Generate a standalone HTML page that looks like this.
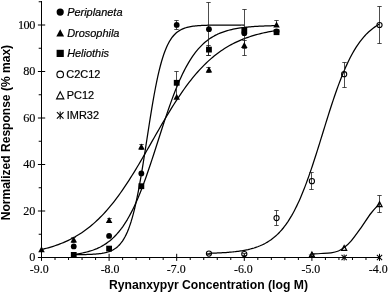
<!DOCTYPE html><html><head><meta charset="utf-8"><title>chart</title>
<style>html,body{margin:0;padding:0;background:#fff}svg{display:block}.t{font-family:"Liberation Serif",serif;font-size:12.2px;fill:#000;stroke:#000;stroke-width:0.15px}.l{font-family:"Liberation Sans",sans-serif;font-size:10.95px;fill:#000;stroke:#000;stroke-width:0.2px}.li{font-family:"Liberation Sans",sans-serif;font-size:10.95px;font-style:italic;fill:#000;stroke:#000;stroke-width:0.2px}.b{font-family:"Liberation Sans",sans-serif;font-size:12.2px;font-weight:bold;fill:#000}</style></head><body>
<svg width="388" height="292" viewBox="0 0 388 292">
<rect width="388" height="292" fill="#fff"/>
<g stroke="#000" stroke-width="1" fill="none" stroke-linecap="butt">
<path d="M41.5 1V257.5H380"/>
<path d="M37.9 257.50H45.2"/>
<path d="M38.7 234.25H41.5"/>
<path d="M37.9 211.00H45.2"/>
<path d="M38.7 187.75H41.5"/>
<path d="M37.9 164.50H45.2"/>
<path d="M38.7 141.25H41.5"/>
<path d="M37.9 118.00H45.2"/>
<path d="M38.7 94.75H41.5"/>
<path d="M37.9 71.50H45.2"/>
<path d="M38.7 48.25H41.5"/>
<path d="M37.9 25.00H45.2"/>
<path d="M38.7 1.75H41.5"/>
<path d="M41.50 253.8V260.9"/>
<path d="M55.02 257.5V260"/>
<path d="M68.54 257.5V260"/>
<path d="M82.06 257.5V260"/>
<path d="M95.58 257.5V260"/>
<path d="M109.10 253.8V260.9"/>
<path d="M122.62 257.5V260"/>
<path d="M136.14 257.5V260"/>
<path d="M149.66 257.5V260"/>
<path d="M163.18 257.5V260"/>
<path d="M176.70 253.8V260.9"/>
<path d="M190.22 257.5V260"/>
<path d="M203.74 257.5V260"/>
<path d="M217.26 257.5V260"/>
<path d="M230.78 257.5V260"/>
<path d="M244.30 253.8V260.9"/>
<path d="M257.82 257.5V260"/>
<path d="M271.34 257.5V260"/>
<path d="M284.86 257.5V260"/>
<path d="M298.38 257.5V260"/>
<path d="M311.90 253.8V260.9"/>
<path d="M325.42 257.5V260"/>
<path d="M338.94 257.5V260"/>
<path d="M352.46 257.5V260"/>
<path d="M365.98 257.5V260"/>
<path d="M379.50 253.8V260.9"/>
</g>
<text class="t" x="35.35" y="261.10" text-anchor="end">0</text>
<text class="t" x="35.35" y="214.60" text-anchor="end">20</text>
<text class="t" x="35.35" y="168.10" text-anchor="end">40</text>
<text class="t" x="35.35" y="121.60" text-anchor="end">60</text>
<text class="t" x="35.35" y="75.10" text-anchor="end">80</text>
<text class="t" style="letter-spacing:-0.45px" x="34.9" y="28.60" text-anchor="end">100</text>
<text class="t" style="font-size:11.9px" x="29.85" y="273.3">-9.0</text>
<text class="t" style="font-size:11.9px" x="100.65" y="273.3">-8.0</text>
<text class="t" style="font-size:11.9px" x="166.85" y="273.3">-7.0</text>
<text class="t" style="font-size:11.9px" x="233.95" y="273.3">-6.0</text>
<text class="t" style="font-size:11.9px" x="301.45" y="273.3">-5.0</text>
<text class="t" style="font-size:11.9px" x="368.75" y="273.3">-4.0</text>
<text class="b" x="108.9" y="288.8">Rynanxypyr Concentration (log M)</text>
<text class="b" style="font-size:12.06px" transform="translate(9.8 220.3) rotate(-90)">Normalized Response (% max)</text>
<g stroke="#000" stroke-width="1.25" fill="none" stroke-linejoin="round">
<path d="M73.75 254.70 L74.96 254.69 L76.18 254.68 L77.40 254.67 L78.62 254.66 L79.84 254.64 L81.05 254.62 L82.27 254.60 L83.49 254.58 L84.71 254.55 L85.93 254.52 L87.15 254.49 L88.36 254.45 L89.58 254.41 L90.80 254.35 L92.02 254.29 L93.24 254.23 L94.46 254.15 L95.67 254.06 L96.89 253.95 L98.11 253.84 L99.33 253.70 L100.55 253.55 L101.76 253.37 L102.98 253.16 L104.20 252.93 L105.42 252.66 L106.64 252.36 L107.86 252.01 L109.07 251.60 L110.29 251.14 L111.51 250.62 L112.73 250.02 L113.95 249.34 L115.17 248.56 L116.38 247.67 L117.60 246.66 L118.82 245.51 L120.04 244.20 L121.26 242.72 L122.48 241.05 L123.69 239.15 L124.91 237.02 L126.13 234.63 L127.35 231.95 L128.57 228.95 L129.78 225.62 L131.00 221.93 L132.22 217.85 L133.44 213.37 L134.66 208.48 L135.88 203.17 L137.09 197.45 L138.31 191.31 L139.53 184.78 L140.75 177.89 L141.97 170.68 L143.19 163.20 L144.40 155.51 L145.62 147.67 L146.84 139.75 L148.06 131.84 L149.28 124.00 L150.49 116.32 L151.71 108.84 L152.93 101.64 L154.15 94.76 L155.37 88.25 L156.59 82.12 L157.80 76.41 L159.02 71.11 L160.24 66.24 L161.46 61.77 L162.68 57.71 L163.90 54.02 L165.11 50.70 L166.33 47.72 L167.55 45.05 L168.77 42.66 L169.99 40.54 L171.21 38.65 L172.42 36.99 L173.64 35.51 L174.86 34.21 L176.08 33.07 L177.30 32.06 L178.51 31.17 L179.73 30.40 L180.95 29.72 L182.17 29.12 L183.39 28.60 L184.61 28.14 L185.82 27.74 L187.04 27.39 L188.26 27.08 L189.48 26.82 L190.70 26.59 L191.92 26.38 L193.13 26.21 L194.35 26.05 L195.57 25.92 L196.79 25.80 L198.01 25.70 L199.22 25.61 L200.44 25.53 L201.66 25.46 L202.88 25.40 L204.10 25.35 L205.32 25.30 L206.53 25.27 L207.75 25.23 L208.97 25.20 L210.19 25.18 L211.41 25.15 L212.63 25.13 L213.84 25.12 L215.06 25.10 L216.28 25.09 L217.50 25.08 L218.72 25.07 L219.94 25.06 L221.15 25.05 L222.37 25.04 L223.59 25.04 L224.81 25.03 L226.03 25.03 L227.24 25.03 L228.46 25.02 L229.68 25.02 L230.90 25.02 L232.12 25.01 L233.34 25.01 L234.55 25.01 L235.77 25.01 L236.99 25.01 L238.21 25.01 L239.43 25.01 L240.65 25.01 L241.86 25.00 L243.08 25.00 L244.30 25.00"/>
<path d="M41.50 249.51 L43.18 249.12 L44.86 248.70 L46.54 248.26 L48.22 247.80 L49.89 247.32 L51.57 246.82 L53.25 246.29 L54.93 245.74 L56.61 245.16 L58.29 244.56 L59.97 243.93 L61.65 243.27 L63.33 242.58 L65.00 241.85 L66.68 241.10 L68.36 240.31 L70.04 239.49 L71.72 238.63 L73.40 237.73 L75.08 236.80 L76.76 235.82 L78.44 234.81 L80.11 233.75 L81.79 232.65 L83.47 231.50 L85.15 230.31 L86.83 229.07 L88.51 227.78 L90.19 226.44 L91.87 225.05 L93.55 223.61 L95.22 222.12 L96.90 220.57 L98.58 218.97 L100.26 217.32 L101.94 215.60 L103.62 213.84 L105.30 212.01 L106.98 210.13 L108.66 208.19 L110.33 206.19 L112.01 204.13 L113.69 202.02 L115.37 199.85 L117.05 197.63 L118.73 195.35 L120.41 193.01 L122.09 190.62 L123.77 188.18 L125.44 185.69 L127.12 183.15 L128.80 180.57 L130.48 177.94 L132.16 175.26 L133.84 172.55 L135.52 169.80 L137.20 167.01 L138.88 164.20 L140.55 161.35 L142.23 158.48 L143.91 155.59 L145.59 152.68 L147.27 149.76 L148.95 146.82 L150.63 143.88 L152.31 140.93 L153.99 137.99 L155.66 135.05 L157.34 132.12 L159.02 129.20 L160.70 126.29 L162.38 123.40 L164.06 120.54 L165.74 117.70 L167.42 114.89 L169.10 112.12 L170.77 109.37 L172.45 106.67 L174.13 104.01 L175.81 101.39 L177.49 98.81 L179.17 96.29 L180.85 93.81 L182.53 91.38 L184.21 89.01 L185.88 86.68 L187.56 84.42 L189.24 82.21 L190.92 80.05 L192.60 77.95 L194.28 75.91 L195.96 73.93 L197.64 72.00 L199.32 70.14 L200.99 68.33 L202.67 66.57 L204.35 64.87 L206.03 63.23 L207.71 61.64 L209.39 60.11 L211.07 58.63 L212.75 57.20 L214.43 55.83 L216.11 54.50 L217.78 53.23 L219.46 52.00 L221.14 50.82 L222.82 49.68 L224.50 48.59 L226.18 47.55 L227.86 46.54 L229.54 45.58 L231.22 44.65 L232.89 43.77 L234.57 42.92 L236.25 42.10 L237.93 41.32 L239.61 40.58 L241.29 39.86 L242.97 39.18 L244.65 38.53 L246.33 37.90 L248.00 37.30 L249.68 36.73 L251.36 36.19 L253.04 35.67 L254.72 35.17 L256.40 34.70 L258.08 34.24 L259.76 33.81 L261.44 33.40 L263.11 33.00 L264.79 32.63 L266.47 32.27 L268.15 31.93 L269.83 31.60 L271.51 31.29 L273.19 31.00 L274.87 30.72 L276.55 30.45"/>
<path d="M73.75 254.46 L75.19 254.26 L76.64 254.04 L78.09 253.81 L79.54 253.57 L80.99 253.30 L82.44 253.01 L83.89 252.70 L85.33 252.36 L86.78 252.00 L88.23 251.61 L89.68 251.19 L91.13 250.74 L92.58 250.26 L94.03 249.73 L95.47 249.17 L96.92 248.56 L98.37 247.91 L99.82 247.21 L101.27 246.46 L102.72 245.65 L104.17 244.79 L105.61 243.86 L107.06 242.87 L108.51 241.80 L109.96 240.66 L111.41 239.44 L112.86 238.14 L114.31 236.75 L115.75 235.27 L117.20 233.69 L118.65 232.01 L120.10 230.22 L121.55 228.32 L123.00 226.31 L124.45 224.18 L125.89 221.93 L127.34 219.55 L128.79 217.04 L130.24 214.40 L131.69 211.63 L133.14 208.72 L134.59 205.67 L136.03 202.49 L137.48 199.18 L138.93 195.74 L140.38 192.16 L141.83 188.46 L143.28 184.64 L144.73 180.71 L146.17 176.67 L147.62 172.54 L149.07 168.31 L150.52 164.01 L151.97 159.64 L153.42 155.21 L154.87 150.75 L156.31 146.25 L157.76 141.74 L159.21 137.22 L160.66 132.72 L162.11 128.24 L163.56 123.81 L165.01 119.42 L166.45 115.09 L167.90 110.85 L169.35 106.68 L170.80 102.61 L172.25 98.65 L173.70 94.80 L175.15 91.06 L176.59 87.45 L178.04 83.97 L179.49 80.61 L180.94 77.40 L182.39 74.31 L183.84 71.36 L185.29 68.55 L186.73 65.87 L188.18 63.33 L189.63 60.91 L191.08 58.62 L192.53 56.45 L193.98 54.41 L195.43 52.48 L196.87 50.66 L198.32 48.94 L199.77 47.34 L201.22 45.83 L202.67 44.41 L204.12 43.08 L205.57 41.84 L207.01 40.68 L208.46 39.59 L209.91 38.58 L211.36 37.63 L212.81 36.74 L214.26 35.92 L215.71 35.15 L217.15 34.44 L218.60 33.77 L220.05 33.16 L221.50 32.58 L222.95 32.05 L224.40 31.55 L225.85 31.09 L227.29 30.66 L228.74 30.26 L230.19 29.89 L231.64 29.55 L233.09 29.23 L234.54 28.93 L235.99 28.66 L237.43 28.41 L238.88 28.17 L240.33 27.95 L241.78 27.75 L243.23 27.57 L244.68 27.39 L246.13 27.23 L247.57 27.08 L249.02 26.95 L250.47 26.82 L251.92 26.70 L253.37 26.59 L254.82 26.49 L256.27 26.40 L257.71 26.31 L259.16 26.23 L260.61 26.15 L262.06 26.08 L263.51 26.02 L264.96 25.96 L266.41 25.91 L267.85 25.86 L269.30 25.81 L270.75 25.77 L272.20 25.73 L273.65 25.69 L275.10 25.66 L276.55 25.62"/>
<path d="M208.95 253.30 L210.16 253.26 L211.38 253.22 L212.60 253.18 L213.82 253.14 L215.04 253.09 L216.25 253.05 L217.47 252.99 L218.69 252.94 L219.91 252.88 L221.13 252.81 L222.35 252.74 L223.56 252.67 L224.78 252.59 L226.00 252.51 L227.22 252.42 L228.44 252.33 L229.66 252.22 L230.87 252.12 L232.09 252.00 L233.31 251.88 L234.53 251.75 L235.75 251.61 L236.96 251.46 L238.18 251.30 L239.40 251.13 L240.62 250.95 L241.84 250.76 L243.06 250.55 L244.27 250.33 L245.49 250.10 L246.71 249.85 L247.93 249.59 L249.15 249.30 L250.37 249.00 L251.58 248.68 L252.80 248.34 L254.02 247.98 L255.24 247.59 L256.46 247.18 L257.68 246.75 L258.89 246.28 L260.11 245.79 L261.33 245.26 L262.55 244.70 L263.77 244.11 L264.98 243.48 L266.20 242.81 L267.42 242.10 L268.64 241.34 L269.86 240.54 L271.08 239.70 L272.29 238.80 L273.51 237.85 L274.73 236.84 L275.95 235.77 L277.17 234.65 L278.39 233.46 L279.60 232.20 L280.82 230.87 L282.04 229.48 L283.26 228.00 L284.48 226.45 L285.69 224.82 L286.91 223.10 L288.13 221.30 L289.35 219.41 L290.57 217.43 L291.79 215.36 L293.00 213.19 L294.22 210.93 L295.44 208.57 L296.66 206.11 L297.88 203.55 L299.10 200.89 L300.31 198.13 L301.53 195.27 L302.75 192.32 L303.97 189.27 L305.19 186.12 L306.41 182.89 L307.62 179.56 L308.84 176.15 L310.06 172.66 L311.28 169.10 L312.50 165.47 L313.71 161.77 L314.93 158.01 L316.15 154.21 L317.37 150.36 L318.59 146.48 L319.81 142.57 L321.02 138.64 L322.24 134.70 L323.46 130.75 L324.68 126.82 L325.90 122.89 L327.12 118.99 L328.33 115.13 L329.55 111.30 L330.77 107.51 L331.99 103.78 L333.21 100.11 L334.42 96.51 L335.64 92.98 L336.86 89.52 L338.08 86.15 L339.30 82.87 L340.52 79.67 L341.73 76.57 L342.95 73.56 L344.17 70.65 L345.39 67.83 L346.61 65.12 L347.83 62.51 L349.04 59.99 L350.26 57.57 L351.48 55.26 L352.70 53.04 L353.92 50.91 L355.14 48.88 L356.35 46.94 L357.57 45.09 L358.79 43.33 L360.01 41.65 L361.23 40.05 L362.44 38.54 L363.66 37.09 L364.88 35.73 L366.10 34.43 L367.32 33.21 L368.54 32.05 L369.75 30.95 L370.97 29.91 L372.19 28.93 L373.41 28.00 L374.63 27.12 L375.85 26.30 L377.06 25.52 L378.28 24.78 L379.50 24.09"/>
<path d="M311.90 253.90 C313.42 253.83 317.82 253.68 321.00 253.50 C324.18 253.32 328.10 253.22 331.00 252.80 C333.90 252.38 336.22 251.87 338.40 251.00 C340.58 250.13 342.00 249.23 344.10 247.60 C346.20 245.97 348.18 244.50 351.00 241.20 C353.82 237.90 357.70 232.42 361.00 227.80 C364.30 223.18 367.72 217.53 370.80 213.50 C373.88 209.47 378.05 205.25 379.50 203.60"/>
</g>
<path d="M73.50 237.50V242.50M71.30 237.50H75.70M71.30 242.50H75.70" stroke="#1a1a1a" stroke-width="0.78" fill="none"/>
<path d="M109.50 218.50V222.50M107.30 218.50H111.70M107.30 222.50H111.70" stroke="#1a1a1a" stroke-width="0.78" fill="none"/>
<path d="M141.50 144.50V149.50M139.30 144.50H143.70M139.30 149.50H143.70" stroke="#1a1a1a" stroke-width="0.78" fill="none"/>
<path d="M176.50 20.50V29.50M174.30 20.50H178.70M174.30 29.50H178.70" stroke="#1a1a1a" stroke-width="0.78" fill="none"/>
<path d="M208.50 2.50V55.50M206.30 2.50H210.70M206.30 55.50H210.70" stroke="#1a1a1a" stroke-width="0.78" fill="none"/>
<path d="M208.50 45.50V55.50M206.30 45.50H210.70M206.30 55.50H210.70" stroke="#1a1a1a" stroke-width="0.78" fill="none"/>
<path d="M208.50 67.50V72.50M206.30 67.50H210.70M206.30 72.50H210.70" stroke="#1a1a1a" stroke-width="0.78" fill="none"/>
<path d="M244.50 9.50V55.50M242.30 9.50H246.70M242.30 55.50H246.70" stroke="#1a1a1a" stroke-width="0.78" fill="none"/>
<path d="M244.50 40.50V48.50M242.30 40.50H246.70M242.30 48.50H246.70" stroke="#1a1a1a" stroke-width="0.78" fill="none"/>
<path d="M276.50 20.50V25.50M274.30 20.50H278.70" stroke="#1a1a1a" stroke-width="0.78" fill="none"/>
<path d="M176.50 71.50V96.50M174.30 71.50H178.70" stroke="#1a1a1a" stroke-width="0.78" fill="none"/>
<path d="M208.50 253.50V254.50M206.30 253.50H210.70M206.30 254.50H210.70" stroke="#1a1a1a" stroke-width="0.78" fill="none"/>
<path d="M244.50 253.50V255.50M242.30 253.50H246.70M242.30 255.50H246.70" stroke="#1a1a1a" stroke-width="0.78" fill="none"/>
<path d="M276.50 210.50V225.50M274.30 210.50H278.70M274.30 225.50H278.70" stroke="#1a1a1a" stroke-width="0.78" fill="none"/>
<path d="M311.50 172.50V189.50M309.30 172.50H313.70M309.30 189.50H313.70" stroke="#1a1a1a" stroke-width="0.78" fill="none"/>
<path d="M344.50 62.50V87.50M342.30 62.50H346.70M342.30 87.50H346.70" stroke="#1a1a1a" stroke-width="0.78" fill="none"/>
<path d="M379.50 6.50V43.50M377.30 6.50H381.70M377.30 43.50H381.70" stroke="#1a1a1a" stroke-width="0.78" fill="none"/>
<path d="M379.50 195.50V212.50M377.30 195.50H381.70M377.30 212.50H381.70" stroke="#1a1a1a" stroke-width="0.78" fill="none"/>
<path d="M41.50 246.30L44.75 252.30L38.25 252.30Z" fill="#000"/>
<path d="M73.75 236.50L77.00 242.50L70.50 242.50Z" fill="#000"/>
<path d="M109.10 216.90L112.35 222.90L105.85 222.90Z" fill="#000"/>
<path d="M141.35 143.50L144.60 149.50L138.10 149.50Z" fill="#000"/>
<path d="M176.70 93.80L179.95 99.80L173.45 99.80Z" fill="#000"/>
<path d="M208.95 66.50L212.20 72.50L205.70 72.50Z" fill="#000"/>
<path d="M244.30 41.90L247.55 47.90L241.05 47.90Z" fill="#000"/>
<path d="M276.55 21.50L279.80 27.50L273.30 27.50Z" fill="#000"/>
<circle cx="73.75" cy="246.40" r="2.90" fill="#000"/>
<circle cx="109.10" cy="235.90" r="2.90" fill="#000"/>
<circle cx="141.35" cy="173.40" r="2.90" fill="#000"/>
<circle cx="176.70" cy="24.90" r="2.90" fill="#000"/>
<circle cx="208.95" cy="29.20" r="2.90" fill="#000"/>
<circle cx="244.30" cy="33.20" r="2.90" fill="#000"/>
<circle cx="276.55" cy="31.30" r="2.90" fill="#000"/>
<rect x="70.85" y="252.00" width="5.80" height="5.80" fill="#000"/>
<rect x="106.20" y="245.70" width="5.80" height="5.80" fill="#000"/>
<rect x="138.45" y="183.30" width="5.80" height="5.80" fill="#000"/>
<rect x="173.80" y="79.90" width="5.80" height="5.80" fill="#000"/>
<rect x="206.05" y="46.70" width="5.80" height="5.80" fill="#000"/>
<rect x="241.40" y="27.00" width="5.80" height="5.80" fill="#000"/>
<rect x="273.65" y="29.30" width="5.80" height="5.80" fill="#000"/>
<circle cx="208.95" cy="253.60" r="2.60" fill="none" stroke="#000" stroke-width="1.05"/>
<circle cx="244.30" cy="254.00" r="2.60" fill="none" stroke="#000" stroke-width="1.05"/>
<circle cx="276.55" cy="218.10" r="2.60" fill="none" stroke="#000" stroke-width="1.05"/>
<circle cx="311.90" cy="181.20" r="2.60" fill="none" stroke="#000" stroke-width="1.05"/>
<circle cx="344.15" cy="74.20" r="2.60" fill="none" stroke="#000" stroke-width="1.05"/>
<circle cx="379.50" cy="25.00" r="2.60" fill="none" stroke="#000" stroke-width="1.05"/>
<path d="M311.90 252.02L314.42 256.85L309.38 256.85Z" fill="none" stroke="#000" stroke-width="1.25"/>
<path d="M344.15 245.52L346.67 250.35L341.62 250.35Z" fill="none" stroke="#000" stroke-width="1.25"/>
<path d="M379.50 201.82L382.02 206.65L376.98 206.65Z" fill="none" stroke="#000" stroke-width="1.25"/>
<g stroke="#000" stroke-width="1.05" fill="none"><path d="M344.15 254.50V260.50"/><path d="M341.54 254.89L346.76 260.11M341.54 260.11L346.76 254.89"/></g>
<g stroke="#000" stroke-width="1.05" fill="none"><path d="M379.50 254.50V260.50"/><path d="M376.89 254.89L382.11 260.11M376.89 260.11L382.11 254.89"/></g>
<path d="M311.9 252.2V257.5M309.4 254.6L311.9 257.3L314.4 254.6" stroke="#000" stroke-width="1" fill="none"/>
<circle cx="60.20" cy="12.10" r="3.60" fill="#000"/>
<text class="li" x="67.15" y="15.95">Periplaneta</text>
<path d="M60.20 29.15L64.10 36.45L56.30 36.45Z" fill="#000"/>
<text class="li" x="67.15" y="36.6">Drosophila</text>
<rect x="56.60" y="49.80" width="7.20" height="7.20" fill="#000"/>
<text class="li" x="67.15" y="56.85">Heliothis</text>
<circle cx="60.20" cy="74.40" r="3.30" fill="none" stroke="#000" stroke-width="1.12"/>
<text class="l" x="66.3" y="78">C2C12</text>
<path d="M60.20 91.82L63.83 98.85L56.58 98.85Z" fill="none" stroke="#000" stroke-width="1.12"/>
<text class="l" x="66.8" y="98.8">PC12</text>
<g stroke="#000" stroke-width="1.05" fill="none"><path d="M60.20 111.60V119.20"/><path d="M56.89 112.09L63.51 118.71M56.89 118.71L63.51 112.09"/></g>
<text class="l" x="66.8" y="119.2">IMR32</text>
</svg></body></html>
